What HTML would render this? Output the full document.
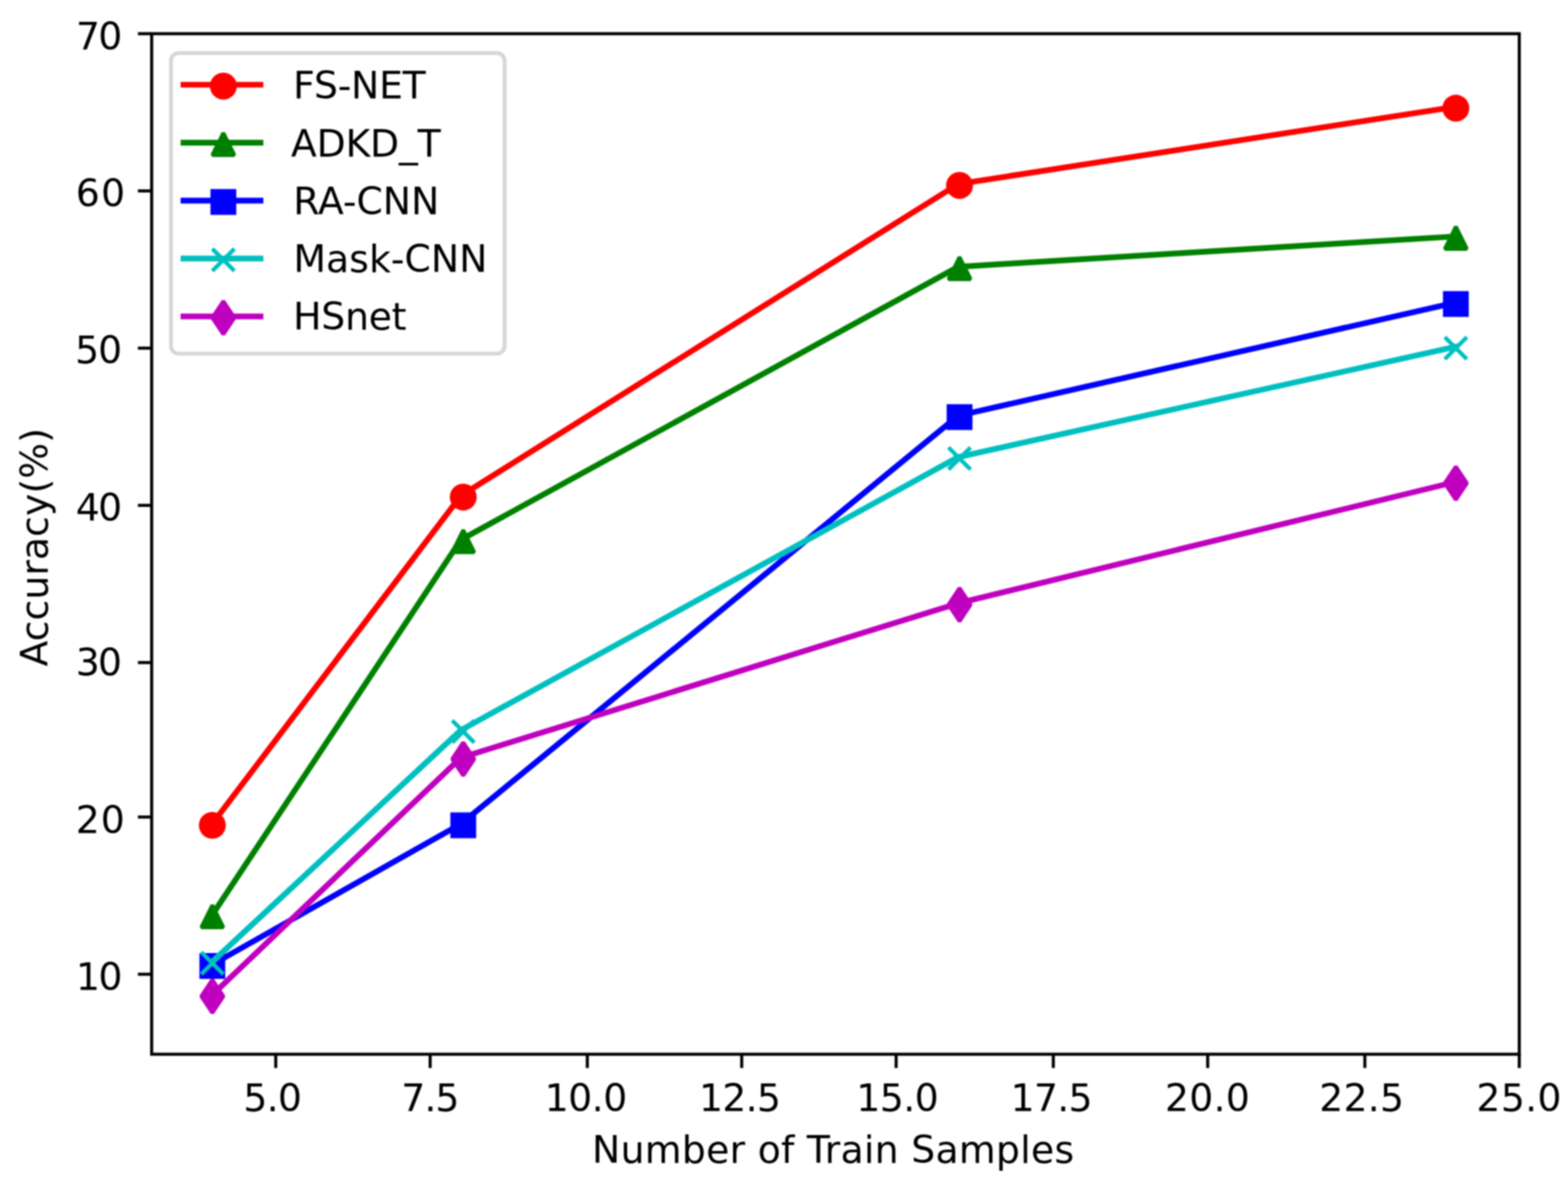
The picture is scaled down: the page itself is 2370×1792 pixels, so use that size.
<!DOCTYPE html>
<html lang="en"><head><meta charset="utf-8"><title>Accuracy vs Number of Train Samples</title>
<style>html,body{margin:0;padding:0;background:#fff;}body{width:2370px;height:1792px;overflow:hidden;}svg{display:block;filter:blur(1.00px);}text{font-family:"DejaVu Sans","Liberation Sans",sans-serif;font-size:57.16px;fill:#000000;}</style>
</head><body>
<main>
<svg width="2370" height="1792" viewBox="0 0 2370 1792" role="img" aria-label="Accuracy versus number of train samples for FS-NET, ADKD_T, RA-CNN, Mask-CNN and HSnet">
<rect x="0" y="0" width="2370" height="1792" fill="#ffffff"/>
<g id="series">
<path d="M320.75 1244.92 L696.59 748.98 L1448.25 278.06 L2199.92 161.37" fill="none" stroke="#ff0000" stroke-width="8.68" stroke-linejoin="round" stroke-linecap="square"/>
<circle cx="320.94" cy="1247.00" r="20.34" fill="#ff0000"/>
<circle cx="700.18" cy="751.07" r="20.34" fill="#ff0000"/>
<circle cx="1450.33" cy="280.14" r="20.34" fill="#ff0000"/>
<circle cx="2200.48" cy="163.45" r="20.34" fill="#ff0000"/>
<path d="M320.75 1382.44 L696.59 815.66 L1448.25 403.08 L2199.92 357.24" fill="none" stroke="#008000" stroke-width="8.68" stroke-linejoin="round" stroke-linecap="square"/>
<path d="M320.94 1367.86 L304.27 1401.20 L337.61 1401.20 Z" fill="#008000" stroke="#008000" stroke-width="5.79" stroke-linejoin="bevel"/>
<path d="M700.18 801.08 L683.51 834.42 L716.85 834.42 Z" fill="#008000" stroke="#008000" stroke-width="5.79" stroke-linejoin="bevel"/>
<path d="M1450.33 388.49 L1433.66 421.83 L1467.00 421.83 Z" fill="#008000" stroke="#008000" stroke-width="5.79" stroke-linejoin="bevel"/>
<path d="M2200.48 342.65 L2183.81 375.99 L2217.15 375.99 Z" fill="#008000" stroke="#008000" stroke-width="5.79" stroke-linejoin="bevel"/>
<path d="M320.75 1457.46 L696.59 1244.92 L1448.25 628.13 L2199.92 457.26" fill="none" stroke="#0000ff" stroke-width="8.68" stroke-linejoin="round" stroke-linecap="square"/>
<rect x="301.44" y="1440.04" width="39.01" height="39.01" fill="#0000ff"/>
<rect x="680.68" y="1227.50" width="39.01" height="39.01" fill="#0000ff"/>
<rect x="1430.83" y="610.71" width="39.01" height="39.01" fill="#0000ff"/>
<rect x="2180.98" y="439.84" width="39.01" height="39.01" fill="#0000ff"/>
<path d="M320.75 1453.29 L696.59 1103.22 L1448.25 690.64 L2199.92 523.94" fill="none" stroke="#00bfbf" stroke-width="8.68" stroke-linejoin="round" stroke-linecap="square"/>
<path d="M304.27 1438.70 L337.61 1472.04 M304.27 1472.04 L337.61 1438.70" fill="none" stroke="#00bfbf" stroke-width="6.13" stroke-linecap="butt"/>
<path d="M683.51 1088.63 L716.85 1121.97 M683.51 1121.97 L716.85 1088.63" fill="none" stroke="#00bfbf" stroke-width="6.13" stroke-linecap="butt"/>
<path d="M1433.66 676.05 L1467.00 709.39 M1433.66 709.39 L1467.00 676.05" fill="none" stroke="#00bfbf" stroke-width="6.13" stroke-linecap="butt"/>
<path d="M2183.81 509.35 L2217.15 542.69 M2183.81 542.69 L2217.15 509.35" fill="none" stroke="#00bfbf" stroke-width="6.13" stroke-linecap="butt"/>
<path d="M320.75 1503.30 L696.59 1144.90 L1448.25 911.52 L2199.92 728.15" fill="none" stroke="#bf00bf" stroke-width="8.68" stroke-linejoin="round" stroke-linecap="square"/>
<path d="M320.94 1480.38 L304.27 1505.38 L320.94 1530.39 L337.61 1505.38 Z" fill="#bf00bf" stroke="#bf00bf" stroke-width="5.79" stroke-linejoin="bevel"/>
<path d="M700.18 1121.97 L683.51 1146.98 L700.18 1171.98 L716.85 1146.98 Z" fill="#bf00bf" stroke="#bf00bf" stroke-width="5.79" stroke-linejoin="bevel"/>
<path d="M1450.33 888.59 L1433.66 913.60 L1450.33 938.60 L1467.00 913.60 Z" fill="#bf00bf" stroke="#bf00bf" stroke-width="5.79" stroke-linejoin="bevel"/>
<path d="M2200.48 705.22 L2183.81 730.23 L2200.48 755.23 L2217.15 730.23 Z" fill="#bf00bf" stroke="#bf00bf" stroke-width="5.79" stroke-linejoin="bevel"/>
</g>
<g id="ticks" stroke="#000" stroke-width="4.63" fill="none">
<line x1="416.79" y1="1592.90" x2="416.79" y2="1613.74"/>
<line x1="650.17" y1="1592.90" x2="650.17" y2="1613.74"/>
<line x1="887.72" y1="1592.90" x2="887.72" y2="1613.74"/>
<line x1="1121.10" y1="1592.90" x2="1121.10" y2="1613.74"/>
<line x1="1354.48" y1="1592.90" x2="1354.48" y2="1613.74"/>
<line x1="1592.03" y1="1592.90" x2="1592.03" y2="1613.74"/>
<line x1="1825.41" y1="1592.90" x2="1825.41" y2="1613.74"/>
<line x1="2062.95" y1="1592.90" x2="2062.95" y2="1613.74"/>
<line x1="2296.33" y1="1592.90" x2="2296.33" y2="1613.74"/>
<line x1="208.42" y1="50.93" x2="229.25" y2="50.93"/>
<line x1="208.42" y1="288.47" x2="229.25" y2="288.47"/>
<line x1="208.42" y1="526.02" x2="229.25" y2="526.02"/>
<line x1="208.42" y1="763.57" x2="229.25" y2="763.57"/>
<line x1="208.42" y1="1001.12" x2="229.25" y2="1001.12"/>
<line x1="208.42" y1="1234.50" x2="229.25" y2="1234.50"/>
<line x1="208.42" y1="1472.04" x2="229.25" y2="1472.04"/>
</g>
<rect x="229.25" y="50.93" width="2067.08" height="1541.98" fill="none" stroke="#000" stroke-width="4.63" stroke-linejoin="miter"/>
<rect x="258.43" y="80.10" width="504.27" height="454.26" rx="11.59" ry="11.59" fill="#ffffff" fill-opacity="0.8" stroke="#cccccc" stroke-opacity="0.8" stroke-width="5.79"/>
<line x1="273.01" y1="128.03" x2="398.04" y2="128.03" stroke="#ff0000" stroke-width="8.68" stroke-linecap="butt"/>
<circle cx="337.61" cy="130.11" r="20.34" fill="#ff0000"/>
<line x1="273.01" y1="215.54" x2="398.04" y2="215.54" stroke="#008000" stroke-width="8.68" stroke-linecap="butt"/>
<path d="M337.61 200.96 L320.94 234.30 L354.28 234.30 Z" fill="#008000" stroke="#008000" stroke-width="5.79" stroke-linejoin="bevel"/>
<line x1="273.01" y1="303.06" x2="398.04" y2="303.06" stroke="#0000ff" stroke-width="8.68" stroke-linecap="butt"/>
<rect x="318.11" y="285.64" width="39.01" height="39.01" fill="#0000ff"/>
<line x1="273.01" y1="390.58" x2="398.04" y2="390.58" stroke="#00bfbf" stroke-width="8.68" stroke-linecap="butt"/>
<path d="M320.94 375.99 L354.28 409.33 M320.94 409.33 L354.28 375.99" fill="none" stroke="#00bfbf" stroke-width="6.13" stroke-linecap="butt"/>
<line x1="273.01" y1="478.10" x2="398.04" y2="478.10" stroke="#bf00bf" stroke-width="8.68" stroke-linecap="butt"/>
<path d="M337.61 455.17 L320.94 480.18 L337.61 505.18 L354.28 480.18 Z" fill="#bf00bf" stroke="#bf00bf" stroke-width="5.79" stroke-linejoin="bevel"/>
<g id="labels">
<text x="367.87" y="1678.59" textLength="88.53" lengthAdjust="spacing">5.0</text>
<text x="606.48" y="1678.59" textLength="88.00" lengthAdjust="spacing">7.5</text>
<text x="823.20" y="1678.59" textLength="124.81" lengthAdjust="spacing">10.0</text>
<text x="1056.55" y="1678.59" textLength="123.81" lengthAdjust="spacing">12.5</text>
<text x="1294.32" y="1678.59" textLength="124.62" lengthAdjust="spacing">15.0</text>
<text x="1527.58" y="1678.59" textLength="123.84" lengthAdjust="spacing">17.5</text>
<text x="1760.72" y="1678.59" textLength="128.48" lengthAdjust="spacing">20.0</text>
<text x="1994.10" y="1678.59" textLength="128.03" lengthAdjust="spacing">22.5</text>
<text x="2231.54" y="1678.59" textLength="128.69" lengthAdjust="spacing">25.0</text>
<text x="114.68" y="74.59" textLength="70.09" lengthAdjust="spacing">70</text>
<text x="114.38" y="312.14" textLength="74.70" lengthAdjust="spacing">60</text>
<text x="113.48" y="549.41" textLength="71.11" lengthAdjust="spacing">50</text>
<text x="114.51" y="786.68" textLength="70.04" lengthAdjust="spacing">40</text>
<text x="114.39" y="1020.52" textLength="70.10" lengthAdjust="spacing">30</text>
<text x="114.52" y="1258.52" textLength="74.17" lengthAdjust="spacing">20</text>
<text x="114.80" y="1495.66" textLength="70.23" lengthAdjust="spacing">10</text>
<text x="894.75" y="1756.50" textLength="728.88" lengthAdjust="spacing">Number of Train Samples</text>
<text transform="translate(71.90 1007.11) rotate(-90)" textLength="360.34" lengthAdjust="spacing">Accuracy(%)</text>
<text x="443.10" y="149.27" textLength="200.41" lengthAdjust="spacing">FS-NET</text>
<text x="439.67" y="237.13" textLength="226.57" lengthAdjust="spacing">ADKD_T</text>
<text x="443.13" y="323.98" textLength="220.77" lengthAdjust="spacing">RA-CNN</text>
<text x="443.50" y="411.28" textLength="293.31" lengthAdjust="spacing">Mask-CNN</text>
<text x="443.00" y="498.24" textLength="171.33" lengthAdjust="spacing">HSnet</text>
</g>
</svg>
</main>
</body></html>
